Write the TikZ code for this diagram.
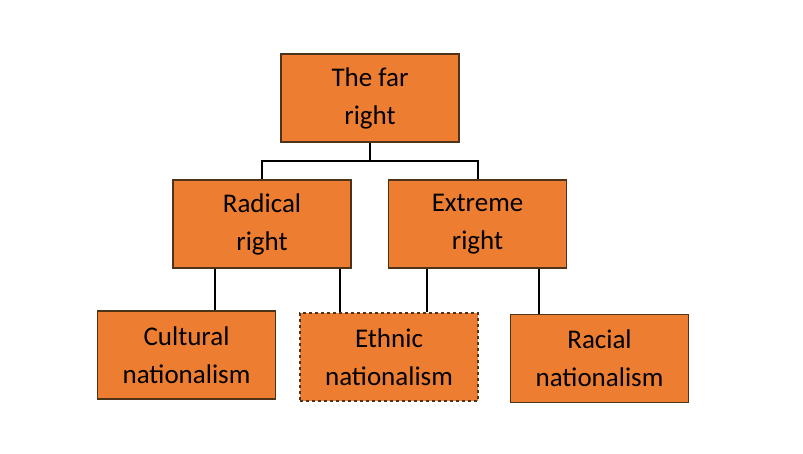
\documentclass[tikz,border=0pt]{standalone}
\usepackage{fontspec}
\setmainfont{Carlito}
\begin{document}
\begin{tikzpicture}[x=1pt,y=-1pt,
  boxst/.style={draw=black!60!brown,line width=1.2pt,fill={rgb,255:red,237;green,125;blue,49},minimum width=178pt,minimum height=88pt,align=center,font=\fontsize{27}{38}\selectfont,inner sep=0pt},
  conn/.style={line width=2pt,black}]
\useasboundingbox (0,0) rectangle (803,453);
\node[boxst] (top) at (370,98) {The far\\right};
\node[boxst] (rad) at (262,224) {Radical\\right};
\node[boxst] (ext) at (477.5,224) {Extreme\\right};
\node[boxst] (cul) at (186.5,355) {Cultural\\nationalism};
\node[boxst,dashed] (eth) at (389,357) {Ethnic\\nationalism};
\node[boxst] (rac) at (599.5,358.5) {Racial\\nationalism};
\coordinate (j) at (370,161);
\draw[conn] (top.south) -- (j);
\draw[conn] (j) -| (rad.north);
\draw[conn] (j) -| (ext.north);
\draw[conn] (rad.south -| 215,0) -- (cul.north -| 215,0);
\draw[conn] (rad.south -| 340,0) -- (eth.north -| 340,0);
\draw[conn] (ext.south -| 427,0) -- (eth.north -| 427,0);
\draw[conn] (ext.south -| 539,0) -- (rac.north -| 539,0);
\end{tikzpicture}
\end{document}
